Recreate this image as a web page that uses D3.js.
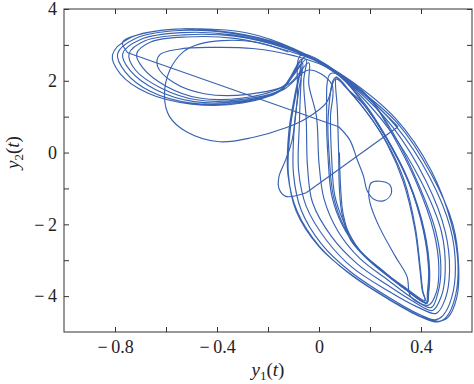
<!DOCTYPE html>
<html>
<head>
<meta charset="utf-8">
<script src="https://cdn.jsdelivr.net/npm/d3@7"></script>
<style>
  body { margin: 0; background: #fff; }
  .tick text { font-family: "Liberation Serif", serif; font-size: 18px; fill: #222; }
  .tick line { stroke: #333; }
</style>
</head>
<body>
<div id="chart"></div>
<script>
// axis ticks
const xTicks = [-0.8, -0.6, -0.4, -0.2, 0, 0.2, 0.4];
const xTickLabels = ["\u2212\u20090.8", "", "\u2212\u20090.4", "", "0", "", "0.4"];
const yTicks = [-4, -3, -2, -1, 0, 1, 2, 3, 4];
const yTickLabels = ["\u2212\u20094", "", "\u2212\u20092", "", "0", "", "2", "", "4"];

// trajectory pieces, [y1, y2] in order
const startArc = [[-0.12,2.8],[-0.25,3.08],[-0.38,3.12],[-0.47,3.02],[-0.53,2.82],[-0.585,2.3],[-0.606,1.56],[-0.586,1.0],[-0.52,0.58],[-0.39,0.3],[-0.26,0.42],[-0.13,0.69],[-0.05,0.95],[0.03,1.4],[0.065,2.05]];
const loopG = [[0.12,1.7],[0.2,1.0],[0.27,0.2],[0.33,-0.8],[0.375,-2.1],[0.395,-3.2],[0.405,-3.85],[0.415,-4.12],[0.33,-3.72],[0.21,-3.08],[0.125,-2.45],[0.09,-1.7],[0.08,-1.0],[0.077,0.0],[0.072,1.2],[0.068,2.1]];
const loopF = [[0.1,1.85],[0.18,1.3],[0.26,0.45],[0.35,-0.8],[0.41,-2.2],[0.43,-3.3],[0.425,-3.9],[0.42,-4.18],[0.34,-3.82],[0.25,-3.32],[0.16,-2.75],[0.09,-2.0],[0.05,-1.2],[0.036,-0.2],[0.03,1.0],[0.045,2.2]];
const loopE = [[0.1,2.1],[0.2,1.5],[0.28,0.6],[0.38,-0.8],[0.45,-2.2],[0.47,-3.2],[0.46,-3.9],[0.43,-4.25],[0.36,-4.02],[0.345,-3.45],[0.3,-2.9],[0.235,-2.05],[0.2,-1.4],[0.195,-1.1],[0.205,-0.84],[0.24,-0.8],[0.278,-0.9],[0.283,-1.15],[0.255,-1.34],[0.215,-1.3],[0.188,-1.05],[0.175,-0.67],[0.15,-0.2],[0.12,0.36],[0.077,0.72]];
const chordLanding = [[-0.75,2.78],[-0.77,3.08],[-0.66,3.36],[-0.47,3.45],[-0.28,3.33],[-0.1,2.9]];
const loopA = [[0.1,2.12],[0.3,0.95],[0.44,-0.5],[0.52,-2.0],[0.545,-3.1],[0.535,-4.0],[0.5,-4.58],[0.465,-4.72],[0.4,-4.58],[0.28,-4.12],[0.12,-3.38],[0.0,-2.6],[-0.085,-1.65],[-0.122,-0.6],[-0.118,0.6],[-0.095,1.6],[-0.07,2.6]];
const upper1 = [[-0.15,1.75],[-0.3,1.38],[-0.5,1.35],[-0.67,1.65],[-0.78,2.2],[-0.81,2.72],[-0.74,3.2],[-0.56,3.44],[-0.34,3.34],[-0.15,3.02],[0.0,2.55]];
const loopB = [[0.13,1.9],[0.3,0.75],[0.435,-0.7],[0.515,-2.1],[0.535,-3.2],[0.52,-4.05],[0.485,-4.55],[0.455,-4.66],[0.39,-4.5],[0.27,-4.02],[0.12,-3.3],[0.01,-2.55],[-0.07,-1.6],[-0.1,-0.6],[-0.097,0.7],[-0.08,1.7],[-0.065,2.5]];
const upper2 = [[-0.15,1.72],[-0.3,1.41],[-0.5,1.38],[-0.66,1.7],[-0.76,2.25],[-0.79,2.75],[-0.72,3.18],[-0.55,3.4],[-0.34,3.32],[-0.15,3.0],[0.0,2.5]];
const loopC = [[0.14,1.8],[0.29,0.7],[0.42,-0.8],[0.495,-2.2],[0.512,-3.3],[0.495,-4.08],[0.46,-4.48],[0.385,-4.3],[0.27,-3.85],[0.13,-3.2],[0.03,-2.45],[-0.05,-1.5],[-0.08,-0.5],[-0.077,0.8],[-0.07,2.0],[-0.06,2.65]];
const loopF2 = [[0.06,2.3],[0.17,1.4],[0.26,0.45],[0.35,-0.8],[0.412,-2.2],[0.432,-3.3],[0.428,-3.9],[0.422,-4.2],[0.345,-3.84],[0.25,-3.3],[0.16,-2.73],[0.1,-1.98],[0.062,-1.2],[0.05,-0.2],[0.045,1.0],[0.05,1.9]];
const upper3 = [[-0.04,2.3],[-0.14,1.75],[-0.3,1.44],[-0.49,1.42],[-0.64,1.75],[-0.74,2.28],[-0.77,2.75],[-0.7,3.15],[-0.54,3.34],[-0.34,3.28],[-0.14,2.95],[0.02,2.45]];
const loopA2 = [[0.14,1.85],[0.31,0.8],[0.44,-0.6],[0.525,-2.0],[0.548,-3.2],[0.54,-4.05],[0.505,-4.6],[0.47,-4.7],[0.41,-4.6],[0.29,-4.15],[0.13,-3.42],[0.0,-2.62],[-0.09,-1.62],[-0.12,-0.6],[-0.112,0.7],[-0.09,1.65]];
const upper4 = [[-0.07,2.55],[-0.14,1.8],[-0.3,1.48],[-0.48,1.47],[-0.62,1.8],[-0.72,2.3],[-0.745,2.75],[-0.68,3.12],[-0.53,3.28],[-0.33,3.24],[-0.13,2.9],[0.03,2.4]];
const loopD = [[0.14,1.75],[0.28,0.6],[0.4,-0.8],[0.48,-2.2],[0.495,-3.3],[0.48,-4.0],[0.445,-4.4],[0.37,-4.15],[0.27,-3.7],[0.15,-3.1],[0.05,-2.35],[-0.025,-1.4],[-0.045,-0.4],[-0.05,0.9],[-0.06,2.0]];
const upper5 = [[-0.05,2.6],[-0.14,1.85],[-0.3,1.52],[-0.47,1.52],[-0.6,1.85],[-0.69,2.35],[-0.715,2.75],[-0.66,3.08],[-0.52,3.22],[-0.33,3.18],[-0.13,2.85],[0.02,2.45]];
const loopB2Top = [[0.15,1.8],[0.31,0.72]];
const bulge = [[-0.05,-1.12],[-0.13,-1.22],[-0.157,-1.0],[-0.157,-0.67],[-0.13,-0.19],[-0.105,0.36],[-0.085,1.5],[-0.07,2.72]];
const loopE2 = [[0.08,2.2],[0.21,1.4],[0.29,0.55],[0.385,-0.8],[0.458,-2.2],[0.478,-3.2],[0.465,-3.95],[0.44,-4.32],[0.365,-4.05],[0.27,-3.55],[0.16,-2.95],[0.075,-2.2],[0.02,-1.3],[0.0,-0.3],[-0.01,1.0],[-0.04,1.9]];
const upper6 = [[-0.04,2.5],[-0.12,1.9],[-0.28,1.62],[-0.45,1.64],[-0.57,1.95],[-0.633,2.4],[-0.625,2.72],[-0.55,2.88],[-0.42,2.93],[-0.26,2.9],[-0.1,2.7]];
const loopF3 = [[0.05,2.3],[0.17,1.45],[0.26,0.48],[0.352,-0.8],[0.414,-2.2],[0.434,-3.3],[0.43,-3.92],[0.423,-4.2],[0.343,-3.83],[0.252,-3.3],[0.162,-2.74],[0.094,-2.0],[0.056,-1.2],[0.041,-0.2],[0.036,1.0],[0.065,2.1]];
const loopG2 = [[0.13,1.62],[0.21,0.9],[0.28,0.1],[0.335,-0.8],[0.378,-2.1],[0.397,-3.2],[0.407,-3.85],[0.416,-4.14],[0.33,-3.74],[0.21,-3.1],[0.13,-2.48],[0.095,-1.72],[0.085,-1.0],[0.08,0.0]];

const pieces = [startArc, loopG, loopF, loopE, chordLanding, loopA, upper1, loopB, upper2, loopC,
  loopF2, upper3, loopA2, upper4, loopD, upper5, loopB2Top, bulge, loopE2, upper6, loopF3, loopG2];
// pieces that are reached by a straight jump from the previous one
const jumpTo = new Set([chordLanding, bulge]);

const width = 474, height = 384;
const margin = { top: 9, right: 2, bottom: 52, left: 64 };

const svg = d3.select("#chart").append("svg")
  .attr("width", width)
  .attr("height", height);

const x = d3.scaleLinear().domain([-1, 0.6]).range([margin.left, width - margin.right]);
const y = d3.scaleLinear().domain([-5, 4]).range([height - margin.bottom, margin.top]);

// split into smooth runs and straight chords
const runs = [];
const chords = [];
let current = [];
pieces.forEach(p => {
  if (jumpTo.has(p) && current.length) {
    runs.push(current);
    chords.push([current[current.length - 1], p[0]]);
    current = [];
  }
  current = current.concat(p);
});
runs.push(current);

svg.append("defs").append("clipPath").attr("id", "plotClip")
  .append("rect")
  .attr("x", margin.left).attr("y", margin.top)
  .attr("width", width - margin.left - margin.right)
  .attr("height", height - margin.top - margin.bottom);

const plot = svg.append("g").attr("clip-path", "url(#plotClip)");

const smooth = d3.line()
  .x(d => x(d[0]))
  .y(d => y(d[1]))
  .curve(d3.curveCatmullRom.alpha(0.5));

const straight = d3.line()
  .x(d => x(d[0]))
  .y(d => y(d[1]));

plot.selectAll(".run")
  .data(runs)
  .enter().append("path")
  .attr("class", "run")
  .attr("fill", "none")
  .attr("stroke", "#3862b2")
  .attr("stroke-width", 1.15)
  .attr("d", smooth);

plot.selectAll(".chord")
  .data(chords)
  .enter().append("path")
  .attr("class", "chord")
  .attr("fill", "none")
  .attr("stroke", "#3862b2")
  .attr("stroke-width", 1.15)
  .attr("d", straight);

// axes, ticks pointing inward on all four sides
svg.append("g")
  .attr("transform", `translate(0,${height - margin.bottom})`)
  .call(d3.axisBottom(x).tickValues(xTicks).tickSize(-5).tickSizeOuter(0).tickPadding(8)
    .tickFormat((d, i) => xTickLabels[i]))
  .call(g => g.select(".domain").remove());

svg.append("g")
  .attr("transform", `translate(${margin.left},0)`)
  .call(d3.axisLeft(y).tickValues(yTicks).tickSize(-5).tickSizeOuter(0).tickPadding(7)
    .tickFormat((d, i) => yTickLabels[i]))
  .call(g => g.select(".domain").remove());

svg.append("g")
  .attr("transform", `translate(0,${margin.top})`)
  .call(d3.axisTop(x).tickValues(xTicks).tickSize(-5).tickSizeOuter(0).tickFormat(""))
  .call(g => g.select(".domain").remove());

svg.append("g")
  .attr("transform", `translate(${width - margin.right},0)`)
  .call(d3.axisRight(y).tickValues(yTicks).tickSize(-5).tickSizeOuter(0).tickFormat(""))
  .call(g => g.select(".domain").remove());

svg.append("rect")
  .attr("x", margin.left).attr("y", margin.top)
  .attr("width", width - margin.left - margin.right)
  .attr("height", height - margin.top - margin.bottom)
  .attr("fill", "none")
  .attr("stroke", "#333")
  .attr("stroke-width", 1);

// axis titles
function titleText(sel, sub) {
  sel.attr("font-family", "Liberation Serif, serif").attr("font-size", 19).attr("fill", "#222");
  sel.append("tspan").attr("font-style", "italic").text("y");
  sel.append("tspan").attr("font-size", 13).attr("dy", 4).text(sub);
  sel.append("tspan").attr("dy", -4).text("(");
  sel.append("tspan").attr("font-style", "italic").text("t");
  sel.append("tspan").text(")");
}

svg.append("text")
  .attr("x", (margin.left + width - margin.right) / 2)
  .attr("y", 376)
  .attr("text-anchor", "middle")
  .call(titleText, "1");

svg.append("text")
  .attr("transform", `translate(19,${y(0)}) rotate(-90)`)
  .attr("text-anchor", "middle")
  .call(titleText, "2");
</script>
</body>
</html>
